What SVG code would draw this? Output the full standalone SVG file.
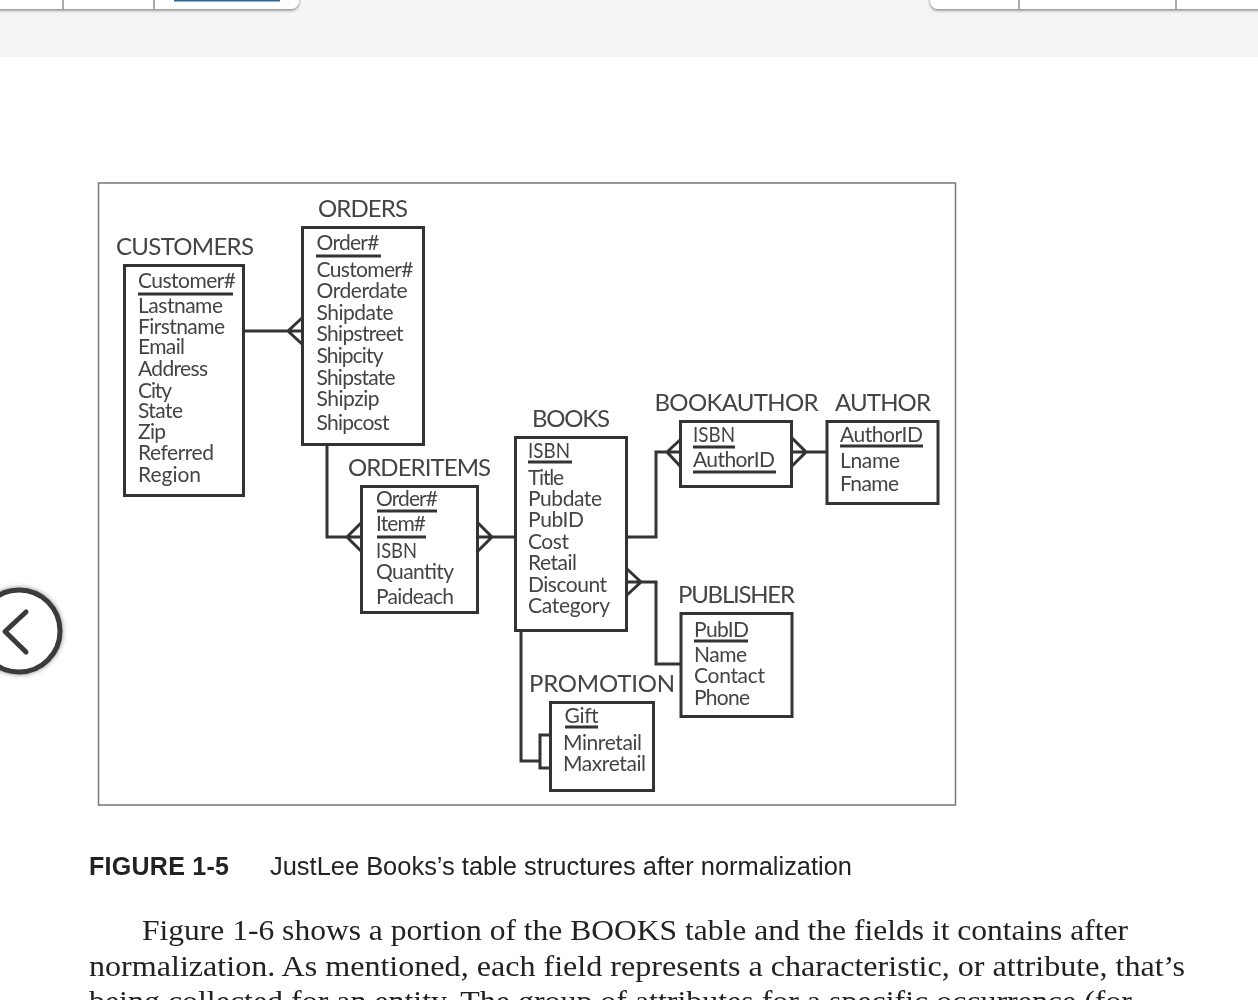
<svg xmlns="http://www.w3.org/2000/svg" width="1258" height="1000" viewBox="0 0 1258 1000">
<style>
text{font-family:"Lato","Open Sans",sans-serif;fill:#444;filter:blur(0.35px)}
.f{font-size:21px}
.t{font-size:24px}
.b{fill:#fff;stroke:#333;stroke-width:3}
.u{stroke:#333;stroke-width:3}
.c{fill:none;stroke:#333;stroke-width:3}
.cap{font-family:"Liberation Sans",Arial,sans-serif;font-size:25px;fill:#222}
.p{font-family:"Liberation Serif","Times New Roman",serif;font-size:29.500px;fill:#222}
.sep{stroke:#aaa;stroke-width:2}
</style>
<defs>
<filter id="sh" x="-10%" y="-50%" width="120%" height="200%"><feDropShadow dx="0" dy="1.5" stdDeviation="1.5" flood-color="#555" flood-opacity="0.7"/></filter>
<filter id="sh2" x="-20%" y="-20%" width="140%" height="140%"><feDropShadow dx="0" dy="0" stdDeviation="2.5" flood-color="#555" flood-opacity="0.7"/></filter>
</defs>
<rect width="1258" height="1000" fill="#fff"/>
<g id="toolbar">
<rect width="1258" height="57" fill="#f5f5f5"/>
<rect x="-20" y="-20" width="319" height="29" rx="8" fill="#fff" filter="url(#sh)"/>
<rect x="930" y="-20" width="348" height="29" rx="8" fill="#fff" filter="url(#sh)"/>
<path class="sep" d="M63 0V9M154 0V9M1019 0V9M1176 0V9"/>
<rect x="174" y="0" width="106" height="1.500" fill="#2a6a9a"/>
</g>
<g id="back-button">
<circle cx="19" cy="631" r="41" fill="#fff" stroke="#3a3a3a" stroke-width="5" filter="url(#sh2)"/>
<path d="M26 612L5 631.500L26 652" fill="none" stroke="#3a3a3a" stroke-width="5" stroke-linecap="round" stroke-linejoin="round"/>
</g>
<rect id="frame" x="98.500" y="183" width="857" height="622" fill="#fff" stroke="#777" stroke-width="1.500"/>
<g id="connectors">
<path class="c" d="M244 331H302M302 318L288 331L302 344"/>
<path class="c" d="M327 445V537H361M361 523L347 537L361 551"/>
<path class="c" d="M478 537H515M478 523L492 537L478 551"/>
<path class="c" d="M627 537H656V452H680M680 440L667 452L680 466"/>
<path class="c" d="M792 452H827M792 438L806 452L792 466"/>
<path class="c" d="M627 582H656V664H684M627 569L641 582L627 595"/>
<path class="c" d="M521 631V761H540M550 735H540V768H550"/>
</g>
<g id="customers">
<text class="t" x="116" y="255" textLength="138">CUSTOMERS</text>
<rect class="b" x="124.500" y="265.500" width="119" height="230"/>
<text class="f" x="138" y="288" textLength="98">Customer#</text>
<line class="u" x1="138" x2="233" y1="294" y2="294"/>
<text class="f" x="138" y="313" textLength="85">Lastname</text>
<text class="f" x="138" y="334" textLength="87">Firstname</text>
<text class="f" x="138" y="354" textLength="47">Email</text>
<text class="f" x="138" y="376" textLength="70">Address</text>
<text class="f" x="138" y="398" textLength="34">City</text>
<text class="f" x="138" y="418" textLength="45">State</text>
<text class="f" x="138" y="439" textLength="28">Zip</text>
<text class="f" x="138" y="460" textLength="76">Referred</text>
<text class="f" x="138" y="482" textLength="63">Region</text>
</g>
<g id="orders">
<text class="t" x="318" y="217" textLength="90">ORDERS</text>
<rect class="b" x="302.500" y="227.500" width="121" height="217"/>
<text class="f" x="316.500" y="250" textLength="63">Order#</text>
<line class="u" x1="316" x2="381" y1="256" y2="256"/>
<text class="f" x="316.500" y="277" textLength="97">Customer#</text>
<text class="f" x="316.500" y="298" textLength="91">Orderdate</text>
<text class="f" x="316.500" y="320" textLength="77">Shipdate</text>
<text class="f" x="316.500" y="341" textLength="87">Shipstreet</text>
<text class="f" x="316.500" y="363" textLength="67">Shipcity</text>
<text class="f" x="316.500" y="385" textLength="79">Shipstate</text>
<text class="f" x="316.500" y="406" textLength="63">Shipzip</text>
<text class="f" x="316.500" y="430" textLength="73">Shipcost</text>
</g>
<g id="orderitems">
<text class="t" x="348" y="476" textLength="143">ORDERITEMS</text>
<rect class="b" x="361.500" y="486.500" width="116" height="126"/>
<text class="f" x="376" y="506" textLength="62">Order#</text>
<line class="u" x1="377" x2="437" y1="511" y2="511"/>
<text class="f" x="376" y="531" textLength="50">Item#</text>
<line class="u" x1="377" x2="426" y1="537" y2="537"/>
<text class="f" x="376" y="558" textLength="41" lengthAdjust="spacingAndGlyphs">ISBN</text>
<text class="f" x="376" y="579" textLength="78">Quantity</text>
<text class="f" x="376" y="604" textLength="78">Paideach</text>
</g>
<g id="books">
<text class="t" x="532" y="427" textLength="78">BOOKS</text>
<rect class="b" x="515.500" y="437.500" width="111" height="193"/>
<text class="f" x="528" y="458" textLength="42" lengthAdjust="spacingAndGlyphs">ISBN</text>
<line class="u" x1="528" x2="572" y1="462" y2="462"/>
<text class="f" x="528" y="485" textLength="36">Title</text>
<text class="f" x="528" y="506" textLength="74">Pubdate</text>
<text class="f" x="528" y="527" textLength="56">PubID</text>
<text class="f" x="528" y="549" textLength="41">Cost</text>
<text class="f" x="528" y="570" textLength="49">Retail</text>
<text class="f" x="528" y="592" textLength="79">Discount</text>
<text class="f" x="528" y="613" textLength="82">Category</text>
</g>
<g id="bookauthor">
<text class="t" x="654.500" y="411" textLength="164">BOOKAUTHOR</text>
<rect class="b" x="680.500" y="421.500" width="111" height="65"/>
<text class="f" x="693" y="442" textLength="42" lengthAdjust="spacingAndGlyphs">ISBN</text>
<line class="u" x1="693" x2="735" y1="447" y2="447"/>
<text class="f" x="693" y="467" textLength="82">AuthorID</text>
<line class="u" x1="693" x2="776" y1="472" y2="472"/>
</g>
<g id="author">
<text class="t" x="835" y="411" textLength="96">AUTHOR</text>
<rect class="b" x="827" y="421.500" width="111" height="82"/>
<text class="f" x="840" y="442" textLength="83">AuthorID</text>
<line class="u" x1="840" x2="923" y1="446" y2="446"/>
<text class="f" x="840" y="468" textLength="60">Lname</text>
<text class="f" x="840" y="491" textLength="59">Fname</text>
</g>
<g id="publisher">
<text class="t" x="678" y="603" textLength="117">PUBLISHER</text>
<rect class="b" x="681" y="613.500" width="111" height="103"/>
<text class="f" x="694" y="637" textLength="55">PubID</text>
<line class="u" x1="694" x2="748" y1="641" y2="641"/>
<text class="f" x="694" y="662" textLength="53">Name</text>
<text class="f" x="694" y="683" textLength="71">Contact</text>
<text class="f" x="694" y="705" textLength="56">Phone</text>
</g>
<g id="promotion">
<text class="t" x="529" y="692" textLength="146">PROMOTION</text>
<rect class="b" x="550.500" y="702.500" width="103" height="88"/>
<text class="f" x="564.500" y="723" textLength="34">Gift</text>
<line class="u" x1="565" x2="598" y1="727" y2="727"/>
<text class="f" x="563" y="750" textLength="79">Minretail</text>
<text class="f" x="563" y="771" textLength="83">Maxretail</text>
</g>
<g id="caption">
<text class="cap" x="89" y="875" font-weight="700" textLength="140">FIGURE 1-5</text>
<text class="cap" x="270" y="875" textLength="582" lengthAdjust="spacingAndGlyphs">JustLee Books’s table structures after normalization</text>
</g>
<g id="body">
<text class="p" x="142" y="940" textLength="986" lengthAdjust="spacingAndGlyphs">Figure 1-6 shows a portion of the BOOKS table and the fields it contains after</text>
<text class="p" x="89" y="976" textLength="1096" lengthAdjust="spacingAndGlyphs">normalization. As mentioned, each field represents a characteristic, or attribute, that’s</text>
<text class="p" x="89" y="1011" textLength="1043" lengthAdjust="spacingAndGlyphs">being collected for an entity. The group of attributes for a specific occurrence (for</text>
</g>
</svg>
